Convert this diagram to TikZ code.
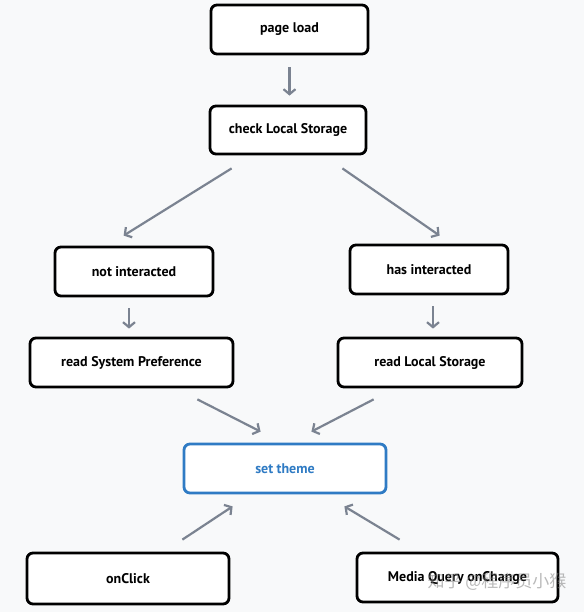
\documentclass[tikz,border=0pt]{standalone}
\usepackage{fontspec}
\setmainfont{PT Sans}
\newfontfamily\cjk{Noto Sans CJK SC}
\usetikzlibrary{arrows.meta}
\definecolor{bgcol}{HTML}{F8F9FA}
\definecolor{arrcol}{HTML}{7B8391}
\definecolor{themecol}{HTML}{2F7BC4}
\tikzset{
  stepbox/.style={draw=black, line width=2.8pt, rounded corners=6pt, fill=white,
    font=\bfseries\fontsize{14}{16}\selectfont, inner sep=0pt},
  themebox/.style={stepbox, draw=themecol, text=themecol},
  flow/.style={draw=arrcol, line width=2.2pt, -{Straight Barb[length=5pt,width=12pt]}}
}

\begin{document}
\begin{tikzpicture}[x=1pt,y=-1pt]
    \fill[bgcol] (0,0) rectangle (584,612);
    \node[stepbox, minimum width=157pt, minimum height=49pt] (load) at (289.5,29.5) {page load};
    \node[stepbox, minimum width=156pt, minimum height=48pt] (check) at (288,130) {check Local Storage};
    \node[stepbox, minimum width=158pt, minimum height=49pt] (notint) at (134,271.5) {not interacted};
    \node[stepbox, minimum width=158pt, minimum height=49pt] (hasint) at (429,269.5) {has interacted};
    \node[stepbox, minimum width=203pt, minimum height=49pt] (readsys) at (131.5,362.5) {read System Preference};
    \node[stepbox, minimum width=184pt, minimum height=49pt] (readls) at (430,362.5) {read Local Storage};
    \node[themebox, minimum width=202pt, minimum height=49pt] (theme) at (285,468.5) {set theme};
    \node[stepbox, minimum width=202pt, minimum height=51pt] (click) at (128,578.5) {onClick};
    \node[stepbox, minimum width=201pt, minimum height=49pt] (query) at (457.5,577.5) {Media Query onChange};
    % watermark
    \node[text=gray, opacity=0.55, font=\cjk\fontsize{17}{19}\selectfont] (mark) at (497,582) {知乎 @程序员小猴};

    \draw[flow, shorten <=12pt, shorten >=9pt] (load) -- (load |- check.north);
    \draw[flow] ([shift={(23pt,-13pt)}]check.south west) -- ([shift={(70pt,10pt)}]notint.north west);
    \draw[flow] ([shift={(-25pt,-13pt)}]check.south east) -- ([shift={(91pt,8pt)}]hasint.north west);
    \draw[flow] ([shift={(-5pt,-11pt)}]notint.south) -- ([shift={(-5pt,8pt)}]notint.south |- readsys.north);
    \draw[flow] ([shift={(4pt,-11pt)}]hasint.south) -- ([shift={(4pt,8pt)}]hasint.south |- readls.north);
    \draw[flow] ([shift={(-37pt,-11pt)}]readsys.south east) -- ([shift={(78pt,11pt)}]theme.north west);
    \draw[flow] ([shift={(37pt,-11pt)}]readls.south west) -- ([shift={(-76pt,11pt)}]theme.north east);
    \draw[flow] ([shift={(-48pt,12pt)}]click.north east) -- ([shift={(50pt,-12pt)}]theme.south west);
    \draw[flow] ([shift={(44pt,12pt)}]query.north west) -- ([shift={(-43pt,-12pt)}]theme.south east);
  \end{tikzpicture}
\end{document}
